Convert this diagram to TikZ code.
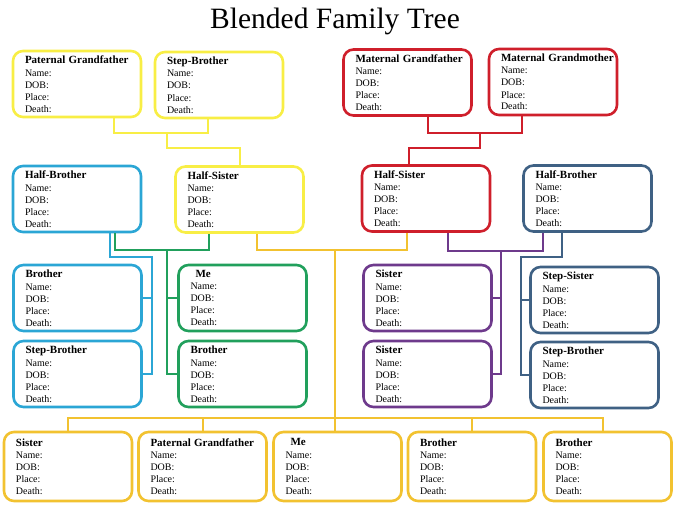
\documentclass[tikz,border=0pt]{standalone}
\usepackage{fontspec}
\setmainfont{Liberation Serif}

\definecolor{famyellow}{HTML}{F8EE45}
\definecolor{famgold}{HTML}{F2C230}
\definecolor{famcyan}{HTML}{2BA6D5}
\definecolor{famgreen}{HTML}{21A05C}
\definecolor{famred}{HTML}{CF1F2B}
\definecolor{fampurple}{HTML}{6E3A8C}
\definecolor{famblue}{HTML}{3F6184}

\newcommand{\famentry}[1]{\mbox{\fontsize{11}{12}\selectfont\bfseries #1}\\[0.5pt]Name:\\DOB:\\Place:\\Death:}

\begin{document}
\begin{tikzpicture}[x=1pt,y=-1pt,
    member/.style={draw=#1, line width=2.6pt, rounded corners=10pt, fill=white,
      minimum width=128pt, minimum height=66pt, text width=104pt,
      inner xsep=12pt, inner ysep=0pt, align=left, font=\fontsize{10}{12}\selectfont},
    lowmember/.style={member=#1, minimum height=69pt},
    link/.style={draw=#1, line width=2pt}]
    \useasboundingbox (0,0) rectangle (680,507);

    \node (title) at (335,21) {\fontsize{29.5}{32}\selectfont Blended Family Tree};

    % grandparents
    \node[member=famyellow] (patgf) at (77,84) {\famentry{Paternal Grandfather}};
    \node[member=famyellow] (stepbro) at (219,85) {\famentry{Step-Brother}};
    \node[member=famred] (matgf) at (407.5,82.5) {\famentry{Maternal Grandfather}};
    \node[member=famred] (matgm) at (553,82) {\famentry{Maternal Grandmother}};

    % parents
    \node[member=famcyan] (halfbro) at (77,199) {\famentry{Half-Brother}};
    \node[member=famyellow] (halfsis) at (239.5,199.5) {\famentry{Half-Sister}};
    \node[member=famred] (halfsisr) at (426,198.5) {\famentry{Half-Sister}};
    \node[member=famblue] (halfbror) at (587.5,198.5) {\famentry{Half-Brother}};

    % siblings
    \node[member=famcyan] (bro) at (77.5,298) {\famentry{Brother}};
    \node[member=famgreen] (me) at (242.5,298) {\famentry{\hspace*{5pt}Me}};
    \node[member=fampurple] (sis) at (427.5,298) {\famentry{Sister}};
    \node[member=famblue] (stepsis) at (594.5,300) {\famentry{Step-Sister}};
    \node[member=famcyan] (stepbrol) at (77.5,374) {\famentry{Step-Brother}};
    \node[member=famgreen] (brog) at (242.5,374) {\famentry{Brother}};
    \node[member=fampurple] (sisb) at (427.5,374) {\famentry{Sister}};
    \node[member=famblue] (stepbror) at (594.5,375) {\famentry{Step-Brother}};

    % bottom row
    \node[lowmember=famgold] (sisk) at (68,466.5) {\famentry{Sister}};
    \node[lowmember=famgold] (patgfk) at (202.5,466.5) {\famentry{Paternal Grandfather}};
    \node[lowmember=famgold] (mek) at (337.5,466.5) {\famentry{\hspace*{5pt}Me}};
    \node[lowmember=famgold] (brok) at (472,466.5) {\famentry{Brother}};
    \node[lowmember=famgold] (brokk) at (607.5,466.5) {\famentry{Brother}};

    % top left
    \coordinate (pjoin) at (167,133);
    \draw[link=famyellow] ([xshift=37pt]patgf.south) |- (pjoin) -| ([xshift=-11pt]stepbro.south);
    \draw[link=famyellow] (pjoin) -- (167,148) -| (halfsis.north);

    % top right
    \coordinate (mjoin) at (480,133);
    \draw[link=famred] ([xshift=20pt]matgf.south) |- (mjoin) -| ([xshift=-31pt]matgm.south);
    \draw[link=famred] (mjoin) -- (480,148) -| ([xshift=-17pt]halfsisr.north);

    % cyan
    \coordinate (cbus) at (152,257);
    \draw[link=famcyan] ([xshift=33pt]halfbro.south) |- (cbus) |- (stepbrol.east);
    \draw[link=famcyan] (bro.east) -- (bro.east -| cbus);

    % green
    \coordinate (gjoin) at (167,250);
    \draw[link=famgreen] ([xshift=38pt]halfbro.south) |- (gjoin) -| ([xshift=-31pt]halfsis.south);
    \draw[link=famgreen] (gjoin) |- (brog.west);
    \draw[link=famgreen] (me.west) -- (me.west -| gjoin);

    % gold
    \coordinate (trunk) at (335,250);
    \coordinate (bus) at (335,418);
    \draw[link=famgold] ([xshift=17pt]halfsis.south) |- (trunk) -| ([xshift=-19pt]halfsisr.south);
    \draw[link=famgold] (trunk) -- (bus) -- (bus |- mek.north);
    \draw[link=famgold] (sisk.north) |- (bus) -| ([xshift=-5pt]brokk.north);
    \draw[link=famgold] (patgfk.north) -- (patgfk.north |- bus);
    \draw[link=famgold] (brok.north) -- (brok.north |- bus);

    % purple
    \coordinate (pjoin2) at (501,251);
    \draw[link=fampurple] ([xshift=22pt]halfsisr.south) |- (pjoin2) -| ([xshift=-45pt]halfbror.south);
    \draw[link=fampurple] (pjoin2) |- (sisb.east);
    \draw[link=fampurple] (sis.east) -- (sis.east -| pjoin2);

    % dark blue
    \coordinate (bbus) at (521,257);
    \draw[link=famblue] ([xshift=-26pt]halfbror.south) |- (bbus) |- (stepbror.west);
    \draw[link=famblue] (stepsis.west) -- (stepsis.west -| bbus);
\end{tikzpicture}
\end{document}
